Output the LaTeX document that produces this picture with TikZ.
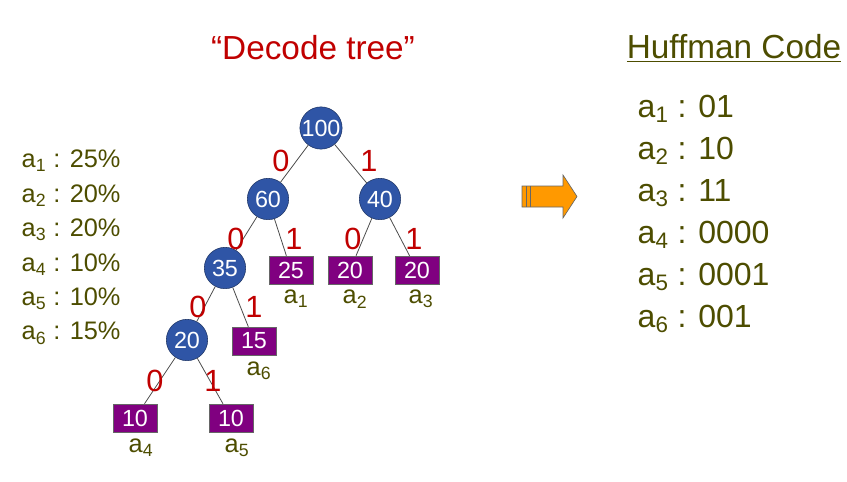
\documentclass[tikz,border=0pt]{standalone}
\usepackage{fontspec}
\setmainfont{Liberation Sans}
\definecolor{olv}{RGB}{77,77,0}
\definecolor{rd}{RGB}{192,0,0}
\definecolor{bl}{RGB}{47,85,166}
\definecolor{pu}{RGB}{128,0,128}
\definecolor{orng}{RGB}{255,153,0}
\newcommand{\sa}[1]{a\textsubscript{#1}}
\begin{document}
\begin{tikzpicture}[x=0.75pt,y=-0.75pt,
  inode/.style={circle,fill=bl,draw=bl!60!black,minimum size=31pt,inner sep=0pt,text=white,font=\fontsize{17.5}{17.5}\selectfont},
  leaf/.style={rectangle,fill=pu,draw=black!60,minimum width=33pt,minimum height=21pt,inner sep=0pt,text=white,font=\fontsize{17.5}{17.5}\selectfont},
  bit/.style={text=rd,font=\fontsize{23}{23}\selectfont},
  sym/.style={text=olv,font=\fontsize{19}{19}\selectfont},
  edge/.style={draw=black!70,line width=0.6pt}]
\useasboundingbox (0,0) rectangle (847,482);
\node[text=rd,font=\fontsize{25}{25}\selectfont] (title) at (313,48) {“Decode tree”};
\node[text=olv,font=\fontsize{25}{25}\selectfont] (huff) at (734,48) {\underline{Huffman Code}};
\node[inode] (n100) at (321,128) {100};
\node[inode] (n60) at (268,199) {60};
\node[inode] (n40) at (380,199) {40};
\node[inode] (n35) at (225,268) {35};
\node[inode] (n20) at (187,340) {20};
\node[leaf] (l1) at (291,270) {25};
\node[leaf] (l2) at (350,270) {20};
\node[leaf] (l3) at (417,270) {20};
\node[leaf] (l6) at (254,341) {15};
\node[leaf] (l4) at (135,418) {10};
\node[leaf] (l5) at (231,418) {10};
\foreach \a/\b in {n100/n60,n100/n40,n60/n35,n60/l1,n40/l2,n40/l3,n35/n20,n35/l6,n20/l4,n20/l5}
  \draw[edge] (\a) -- (\b);
\node[bit] (b1) at (281,161) {0};
\node[bit] (b2) at (369,161) {1};
\node[bit] (b3) at (236,239) {0};
\node[bit] (b4) at (294,239) {1};
\node[bit] (b5) at (353,239) {0};
\node[bit] (b6) at (414,239) {1};
\node[bit] (b7) at (198,307) {0};
\node[bit] (b8) at (254,307) {1};
\node[bit] (b9) at (155,381) {0};
\node[bit] (b10) at (213,381) {1};
\node[sym] (s1) at (296,299) {\sa1};
\node[sym] (s2) at (355,299) {\sa2};
\node[sym] (s3) at (421,299) {\sa3};
\node[sym] (s6) at (259,371) {\sa6};
\node[sym] (s4) at (141,448) {\sa4};
\node[sym] (s5) at (237,448) {\sa5};
\foreach \i/\t [count=\k from 0] in {1/25\%,2/20\%,3/20\%,4/10\%,5/10\%,6/15\%}
  \node[sym,anchor=west] (p\i) at (17,161+34.5*\k) {\sa\i\ : \t};
\foreach \i/\t [count=\k from 0] in {1/01,2/10,3/11,4/0000,5/0001,6/001}
  \node[text=olv,font=\fontsize{24}{24}\selectfont,anchor=west] (c\i) at (633,109+42*\k) {\sa\i\ : \t};
\draw[fill=orng,draw=black!60,line width=0.5pt] (522,186) -- (563,186) -- (563,175) -- (577,196.5) -- (563,218) -- (563,207) -- (522,207) -- cycle;
\draw[draw=black!60,line width=0.5pt] (526,186) -- (526,207) (530,186) -- (530,207);
\end{tikzpicture}
\end{document}
